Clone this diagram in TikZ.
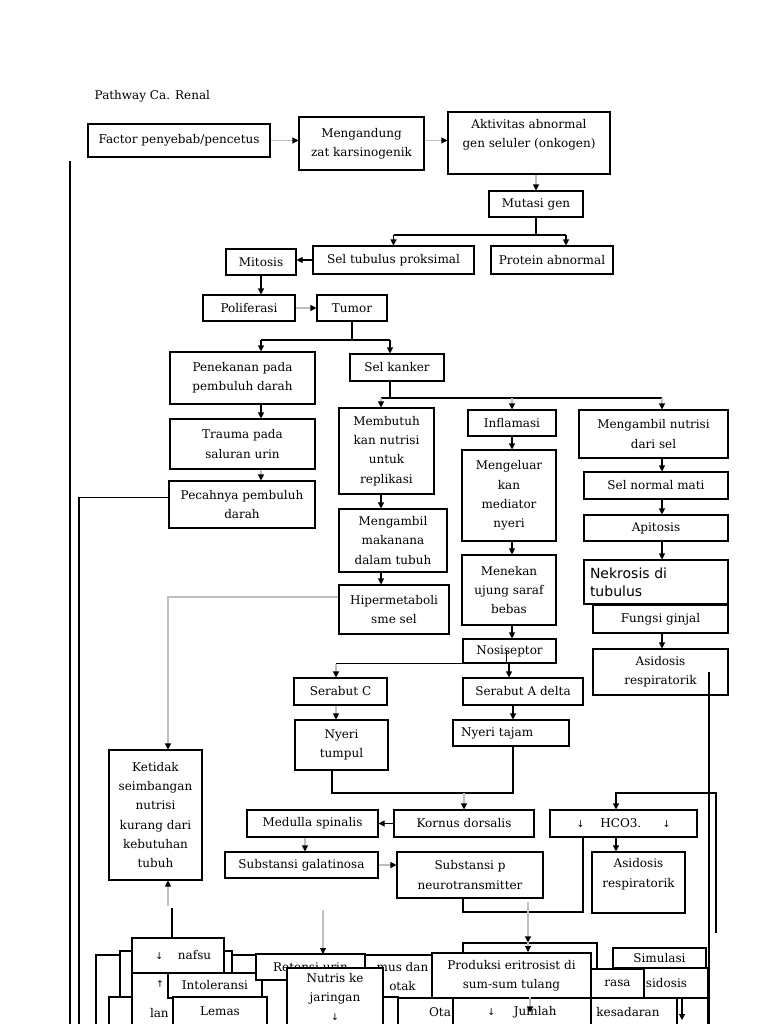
\documentclass[tikz,border=0pt]{standalone}
\usepackage{fontspec}
\setmainfont{DejaVu Serif}
\newfontfamily\sansfont{DejaVu Sans}
\newfontfamily\panahfont{DejaVu Sans}
\usetikzlibrary{calc,arrows.meta}
\newcommand{\turun}{{\panahfont\fontsize{7}{7}\selectfont ↓}}
\newcommand{\naik}{{\panahfont\fontsize{7}{7}\selectfont ↑}}
\tikzset{
	kotak/.style={draw, fill=white, line width=0.8pt, inner sep=0pt,
		align=center, font=\fontsize{9}{14.5}\selectfont},
	letak/.style args={#1,#2,#3,#4}{at={({(#1+#3)/2},{(#2+#4)/2})},
		minimum width={(#3-#1)*0.75pt}, minimum height={(#4-#2)*0.75pt}},
	garis/.style={line width=0.8pt},
	panah/.style={garis, -{Triangle[length=4.5pt,width=4.5pt]}},
	panahabu/.style={garis, draw=black!25,
		-{Triangle[length=4.5pt,width=4.5pt,color=black]}}
}

\begin{document}
\begin{tikzpicture}[x=0.75pt, y=-0.75pt]
	\useasboundingbox (0,0) rectangle (768,1024);
	\clip (0,0) rectangle (768,1024);
	
	% lajur dan baris penghubung
	\coordinate (jPen) at (261,0);
	\coordinate (jKanker) at (390,0);
	\coordinate (jButuh) at (381,0);
	\coordinate (jAmbil) at (662,0);
	\coordinate (jProtein) at (566,0);
	\coordinate (jHiper) at (168,0);
	\coordinate (jSerC) at (336,0);
	\coordinate (jSerA) at (509,0);
	\coordinate (jTumpul) at (332,0);
	\coordinate (jTajam) at (513,0);
	\coordinate (jGal) at (305,0);
	\coordinate (jSubp) at (463,0);
	\coordinate (jHco) at (583,0);
	\coordinate (jHcoA) at (616,0);
	\coordinate (jKanan1) at (709,0);
	\coordinate (jKanan2) at (716,0);
	\coordinate (bMutasi) at (0,235);
	\coordinate (bTumor) at (0,340);
	\coordinate (bKanker) at (0,398);
	\coordinate (bHiper) at (0,597);
	\coordinate (bNyeri) at (0,793);
	\coordinate (bSubp) at (0,912);
	\coordinate (kiriAtas) at (70,161);
	\coordinate (kiriBawah) at (70,1030);
	\coordinate (kiri2Bawah) at (79,1030);
	\coordinate (kananBawah) at (709,1030);
	\coordinate (kanan2Bawah) at (716,933);
	\coordinate (ketAbu) at (168,906);
	\coordinate (nafsuAtas) at (172,908);
	\coordinate (retAtas) at (323,910);
	\coordinate (hbAtas) at (528,902);
	\coordinate (sadarPanah) at (682,998);
	
	\node[anchor=west, font=\fontsize{9}{11}\selectfont] (judul) at (90,96) {Pathway Ca. Renal};
	
	\node[kotak, letak={88,124,270,157}] (faktor) {Factor penyebab/pencetus};
	\node[kotak, letak={299,117,424,170}] (zat) {Mengandung\\zat karsinogenik};
	\node[kotak, letak={448,112,610,174}] (onko) {Aktivitas abnormal\\gen seluler (onkogen)\\\mbox{}};
	\node[kotak, letak={489,191,583,217}] (mutasi) {Mutasi gen};
	\node[kotak, letak={313,246,474,274}] (tubulus) {Sel tubulus proksimal};
	\node[kotak, letak={491,246,613,274}] (protein) {Protein abnormal};
	\node[kotak, letak={226,249,296,275}] (mitosis) {Mitosis};
	\node[kotak, letak={203,295,295,321}] (proliferasi) {Poliferasi};
	\node[kotak, letak={317,295,387,321}] (tumor) {Tumor};
	
	\node[kotak, letak={170,352,315,404}] (tekan) {Penekanan pada\\pembuluh darah};
	\node[kotak, letak={350,354,444,381}] (kanker) {Sel kanker};
	\node[kotak, letak={170,419,315,469}] (trauma) {Trauma pada\\saluran urin};
	\node[kotak, letak={169,481,315,528}] (pecah) {Pecahnya pembuluh\\darah};
	\node[kotak, letak={339,408,434,494}] (butuh) {Membutuh\\kan nutrisi\\untuk\\replikasi};
	\node[kotak, letak={468,410,556,436}] (inflamasi) {Inflamasi};
	\node[kotak, letak={579,410,728,458}] (ambil) {Mengambil nutrisi\\dari sel};
	\node[kotak, letak={339,509,447,572}] (makan) {Mengambil\\makanana\\dalam tubuh};
	\node[kotak, letak={339,585,449,634}] (hiper) {Hipermetaboli\\sme sel};
	\node[kotak, letak={462,450,556,541}] (mediator) {Mengeluar\\kan\\mediator\\nyeri};
	\node[kotak, letak={462,555,556,625}] (saraf) {Menekan\\ujung saraf\\bebas};
	\node[kotak, letak={463,639,556,663}] (nosi) {Nosiseptor};
	\node[kotak, letak={584,472,728,499}] (selmati) {Sel normal mati};
	\node[kotak, letak={584,515,728,541}] (apitosis) {Apitosis};
	\node[kotak, letak={584,560,728,604}, text width=99pt, align=left,
		font=\sansfont\fontsize{10.5}{13.5}\selectfont] (nekrosis) {Nekrosis di\\tubulus};
	\node[kotak, letak={593,605,728,633}] (ginjal) {Fungsi ginjal};
	\node[kotak, letak={593,649,728,695}] (asidosis) {Asidosis\\respiratorik};
	
	\node[kotak, letak={294,678,387,705}] (serabutc) {Serabut C};
	\node[kotak, letak={463,678,583,705}] (serabuta) {Serabut A delta};
	\node[kotak, letak={295,720,388,770}] (tumpul) {Nyeri\\tumpul};
	\node[kotak, letak={453,720,569,746}, text width=75pt, align=left] (tajam) {Nyeri tajam};
	\node[kotak, letak={109,750,202,880}] (ketidak) {Ketidak\\seimbangan\\nutrisi\\kurang dari\\kebutuhan\\tubuh};
	\node[kotak, letak={394,810,534,837}] (kornus) {Kornus dorsalis};
	\node[kotak, letak={247,810,378,837}] (medulla) {Medulla spinalis};
	\node[kotak, letak={225,852,378,878}] (galat) {Substansi galatinosa};
	\node[kotak, letak={397,852,543,898}] (subp) {Substansi p\\neurotransmitter};
	\node[kotak, letak={550,810,697,837}] (hco) {\turun\hspace{12pt}HCO3.\hspace{16pt}\turun};
	\node[kotak, letak={592,852,685,913}] (asidosis2) {Asidosis\\respiratorik\\\mbox{}};
	
	% penghubung atas
	\draw[panahabu] (faktor.east) -- (faktor.east -| zat.west);
	\draw[panahabu] (zat.east |- faktor.east) -- (onko.west |- faktor.east);
	\draw[panahabu] (mutasi.north |- onko.south) -- (mutasi.north);
	\draw[garis] (mutasi.south) -- (mutasi.south |- bMutasi);
	\draw[garis] (tubulus.north |- bMutasi) -- (jProtein |- bMutasi);
	\draw[panah] (tubulus.north |- bMutasi) -- (tubulus.north);
	\draw[panah] (jProtein |- bMutasi) -- (jProtein |- protein.north);
	\draw[panah] (tubulus.west) -- (tubulus.west -| mitosis.east);
	\draw[panah] (mitosis.south) -- (mitosis.south |- proliferasi.north);
	\draw[panahabu] (proliferasi.east) -- (tumor.west);
	\draw[garis] (tumor.south) -- (tumor.south |- bTumor);
	\draw[garis] (jPen |- bTumor) -- (jKanker |- bTumor);
	\draw[panah] (jPen |- bTumor) -- (jPen |- tekan.north);
	\draw[panah] (jKanker |- bTumor) -- (jKanker |- kanker.north);
	\draw[panah] (jPen |- tekan.south) -- (jPen |- trauma.north);
	\draw[panahabu] (jPen |- trauma.south) -- (jPen |- pecah.north);
	
	% cabang sel kanker
	\draw[garis] (jKanker |- kanker.south) -- (jKanker |- bKanker);
	\draw[garis] (jButuh |- bKanker) -- (jAmbil |- bKanker);
	\draw[panahabu] (jButuh |- bKanker) -- (jButuh |- butuh.north);
	\draw[panahabu] (inflamasi.north |- bKanker) -- (inflamasi.north);
	\draw[panahabu] (jAmbil |- bKanker) -- (jAmbil |- ambil.north);
	\draw[panah] (jButuh |- butuh.south) -- (jButuh |- makan.north);
	\draw[panah] (jButuh |- makan.south) -- (jButuh |- hiper.north);
	\draw[panahabu] (hiper.west |- bHiper) -| (jHiper |- ketidak.north);
	\draw[panah] (inflamasi.south) -- (inflamasi.south |- mediator.north);
	\draw[panah] (inflamasi.south |- mediator.south) -- (inflamasi.south |- saraf.north);
	\draw[panah] (inflamasi.south |- saraf.south) -- (inflamasi.south |- nosi.north);
	\draw[panah] (jAmbil |- ambil.south) -- (jAmbil |- selmati.north);
	\draw[panah] (jAmbil |- selmati.south) -- (jAmbil |- apitosis.north);
	\draw[panah] (jAmbil |- apitosis.south) -- (jAmbil |- nekrosis.north);
	\draw[panah] (jAmbil |- ginjal.south) -- (jAmbil |- asidosis.north);
	
	% nyeri
	\draw[garis] ($(nosi.center)+(-3,0)$) -- ($(nosi.south)+(-3,0)$) -- (jSerC |- nosi.south);
	\draw[panahabu] (jSerC |- nosi.south) -- (jSerC |- serabutc.north);
	\draw[panah] (jSerA |- nosi.south) -- (jSerA |- serabuta.north);
	\draw[panahabu] (jSerC |- serabutc.south) -- (jSerC |- tumpul.north);
	\draw[panah] (jTajam |- serabuta.south) -- (jTajam |- tajam.north);
	\draw[garis] (jTumpul |- tumpul.south) -- (jTumpul |- bNyeri) -- (jTajam |- bNyeri) -- (jTajam |- tajam.south);
	\draw[panahabu] (kornus.north |- bNyeri) -- (kornus.north);
	\draw[panah] (kornus.west) -- (medulla.east);
	\draw[panahabu] (jGal |- medulla.south) -- (jGal |- galat.north);
	\draw[panahabu] (galat.east) -- (galat.east -| subp.west);
	\draw[garis] (jSubp |- subp.south) -- (jSubp |- bSubp) -- (jHco |- bSubp) -- (jHco |- hco.south);
	
	% sisi kanan dan kiri
	\draw[garis] (jKanan1 |- asidosis.center) -- (kananBawah);
	\draw[panah] (kanan2Bawah) -- (jKanan2 |- bNyeri) -- (jHcoA |- bNyeri) -- (jHcoA |- hco.north);
	\draw[panah] (jHcoA |- hco.south) -- (jHcoA |- asidosis2.north);
	\draw[garis] (kiriAtas) -- (kiriBawah);
	\draw[garis] ($(pecah.west)+(0,-7)$) -| (kiri2Bawah);
	\draw[panahabu] (ketAbu) -- (jHiper |- ketidak.south);
	\draw[garis] (nafsuAtas) -- (nafsuAtas |- 0,938);
	\draw[panahabu] (retAtas) -- (retAtas |- 0,954);
	
	% tumpukan kotak bawah
	\node[kotak, letak={96,955,259,1026}] (blk1) {};
	\node[kotak, letak={120,951,232,1026}] (blk2) {};
	\node[kotak, letak={109,997,200,1026}] (blk3) {};
	\node[kotak, letak={132,938,224,973}] (nafsu) {\hspace*{8pt}\turun\hspace{11pt}nafsu};
	\node[kotak, letak={132,973,240,1026}, text width=54pt, align=left] (naik) {\hspace*{4.5pt}\naik\\[8pt]lan};
	\node[kotak, letak={168,973,262,998}] (intoleransi) {Intoleransi};
	\node[kotak, letak={173,997,267,1026}] (lemas) {Lemas};
	\node[kotak, letak={365,955,440,998}] (otak) {mus dan\\otak};
	\node[kotak, letak={256,954,365,980}] (retensi) {Retensi urin};
	\node[kotak, letak={380,997,398,1026}] (blk4) {};
	\node[kotak, letak={398,998,482,1026}] (ota) {Ota};
	\node[kotak, letak={287,968,383,1026}] (nutris) {Nutris ke\\jaringan\\\turun};
	\node[kotak, letak={463,943,597,1000}] (hb) {};
	\draw[panahabu] (hbAtas) -- (hbAtas |- hb.north);
	\draw[panahabu] (hbAtas |- hb.north) -- (hbAtas |- 0,952);
	\node[kotak, letak={432,953,591,998}] (eritrosit) {Produksi eritrosist di\\sum-sum tulang};
	\node[kotak, letak={548,998,708,1026}] (sadar) {kesadaran};
	\node[kotak, letak={677,998,708,1026}] (blk5) {};
	\node[kotak, letak={453,998,591,1026}] (jumlah) {\turun\hspace{14pt}Jumlah};
	\draw[panahabu] ($(hbAtas |- jumlah.north)+(2,0)$) -- ++(0,15);
	\node[kotak, letak={625,968,708,998}] (sidosis) {sidosis};
	\node[kotak, letak={591,969,644,998}] (rasa) {rasa};
	\node[kotak, letak={613,948,706,968}] (simulasi) {Simulasi};
	\draw[panah] (sadarPanah) -- ++(0,22);
\end{tikzpicture}
\end{document}
